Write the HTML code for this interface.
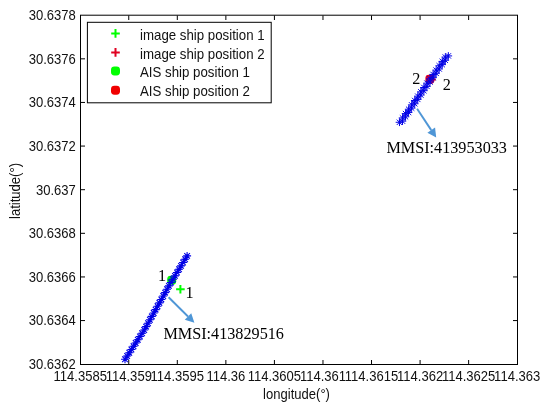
<!DOCTYPE html>
<html><head><meta charset="utf-8"><title>ship positions</title>
<style>
html,body{margin:0;padding:0;background:#fff;}
body{width:550px;height:412px;overflow:hidden;font-family:"Liberation Sans",sans-serif;}
svg{display:block;}
.t{font-family:"Liberation Sans",sans-serif;font-size:14.2px;fill:#111;}
.s{font-family:"Liberation Serif",serif;font-size:16.2px;fill:#000;}
</style></head><body>
<svg width="550" height="412" viewBox="0 0 550 412">
<rect width="550" height="412" fill="#fff"/>
<rect x="80.5" y="15.2" width="437.0" height="349.3" fill="none" stroke="#000" stroke-width="1"/>
<g stroke="#000" stroke-width="1">
<line x1="128.76" y1="364.5" x2="128.76" y2="360.0"/><line x1="128.76" y1="15.5" x2="128.76" y2="20.0"/>
<line x1="177.31" y1="364.5" x2="177.31" y2="360.0"/><line x1="177.31" y1="15.5" x2="177.31" y2="20.0"/>
<line x1="225.87" y1="364.5" x2="225.87" y2="360.0"/><line x1="225.87" y1="15.5" x2="225.87" y2="20.0"/>
<line x1="274.42" y1="364.5" x2="274.42" y2="360.0"/><line x1="274.42" y1="15.5" x2="274.42" y2="20.0"/>
<line x1="322.98" y1="364.5" x2="322.98" y2="360.0"/><line x1="322.98" y1="15.5" x2="322.98" y2="20.0"/>
<line x1="371.53" y1="364.5" x2="371.53" y2="360.0"/><line x1="371.53" y1="15.5" x2="371.53" y2="20.0"/>
<line x1="420.09" y1="364.5" x2="420.09" y2="360.0"/><line x1="420.09" y1="15.5" x2="420.09" y2="20.0"/>
<line x1="468.64" y1="364.5" x2="468.64" y2="360.0"/><line x1="468.64" y1="15.5" x2="468.64" y2="20.0"/>
<line x1="80.5" y1="58.83" x2="85.0" y2="58.83"/><line x1="517.5" y1="58.83" x2="513.0" y2="58.83"/>
<line x1="80.5" y1="102.45" x2="85.0" y2="102.45"/><line x1="517.5" y1="102.45" x2="513.0" y2="102.45"/>
<line x1="80.5" y1="146.07" x2="85.0" y2="146.07"/><line x1="517.5" y1="146.07" x2="513.0" y2="146.07"/>
<line x1="80.5" y1="189.7" x2="85.0" y2="189.7"/><line x1="517.5" y1="189.7" x2="513.0" y2="189.7"/>
<line x1="80.5" y1="233.32" x2="85.0" y2="233.32"/><line x1="517.5" y1="233.32" x2="513.0" y2="233.32"/>
<line x1="80.5" y1="276.95" x2="85.0" y2="276.95"/><line x1="517.5" y1="276.95" x2="513.0" y2="276.95"/>
<line x1="80.5" y1="320.57" x2="85.0" y2="320.57"/><line x1="517.5" y1="320.57" x2="513.0" y2="320.57"/>
</g>
<text class="t" transform="translate(80.2,381.2) scale(0.92,1)" text-anchor="middle">114.3585</text>
<text class="t" transform="translate(128.8,381.2) scale(0.92,1)" text-anchor="middle">114.359</text>
<text class="t" transform="translate(177.3,381.2) scale(0.92,1)" text-anchor="middle">114.3595</text>
<text class="t" transform="translate(225.9,381.2) scale(0.92,1)" text-anchor="middle">114.36</text>
<text class="t" transform="translate(274.4,381.2) scale(0.92,1)" text-anchor="middle">114.3605</text>
<text class="t" transform="translate(323.0,381.2) scale(0.92,1)" text-anchor="middle">114.361</text>
<text class="t" transform="translate(371.5,381.2) scale(0.92,1)" text-anchor="middle">114.3615</text>
<text class="t" transform="translate(420.1,381.2) scale(0.92,1)" text-anchor="middle">114.362</text>
<text class="t" transform="translate(468.6,381.2) scale(0.92,1)" text-anchor="middle">114.3625</text>
<text class="t" transform="translate(517.2,381.2) scale(0.92,1)" text-anchor="middle">114.363</text>
<text class="t" transform="translate(75.8,20.0) scale(0.92,1)" text-anchor="end">30.6378</text>
<text class="t" transform="translate(75.8,63.6) scale(0.92,1)" text-anchor="end">30.6376</text>
<text class="t" transform="translate(75.8,107.2) scale(0.92,1)" text-anchor="end">30.6374</text>
<text class="t" transform="translate(75.8,150.9) scale(0.92,1)" text-anchor="end">30.6372</text>
<text class="t" transform="translate(75.8,194.5) scale(0.92,1)" text-anchor="end">30.637</text>
<text class="t" transform="translate(75.8,238.1) scale(0.92,1)" text-anchor="end">30.6368</text>
<text class="t" transform="translate(75.8,281.8) scale(0.92,1)" text-anchor="end">30.6366</text>
<text class="t" transform="translate(75.8,325.4) scale(0.92,1)" text-anchor="end">30.6364</text>
<text class="t" transform="translate(75.8,369.0) scale(0.92,1)" text-anchor="end">30.6362</text>
<text class="t" transform="translate(296.5,398.9) scale(0.92,1)" text-anchor="middle">longitude(°)</text>
<text class="t" transform="translate(19.8,191.0) rotate(-90) scale(0.92,1)" text-anchor="middle">latitude(°)</text>
<defs><clipPath id="c"><rect x="80.5" y="15.5" width="437.0" height="349.0"/></clipPath></defs>
<g clip-path="url(#c)">
<rect x="167.20" y="275.70" width="9.0" height="9.0" rx="3.4" fill="#00ff00"/>
<rect x="425.40" y="74.70" width="9.0" height="9.0" rx="3.4" fill="#e00020"/>
<path d="M176.1 289.2H184.70000000000002M180.4 284.9V293.5" stroke="#00ff00" stroke-width="2.0" fill="none"/>
<path d="M427.2 79.5H435.8M431.5 75.2V83.8" stroke="#e00020" stroke-width="2.0" fill="none"/>
<path d="M121.00 359.30H129.00M125.00 355.30V363.30M122.17 356.47L127.83 362.13M122.17 362.13L127.83 356.47M123.13 356.04H131.13M127.13 352.04V360.04M124.31 353.22L129.96 358.87M124.31 358.87L129.96 353.22M125.27 352.79H133.27M129.27 348.79V356.79M126.44 349.96L132.10 355.62M126.44 355.62L132.10 349.96M127.40 349.53H135.40M131.40 345.53V353.53M128.57 346.70L134.23 352.36M128.57 352.36L134.23 346.70M129.53 346.28H137.53M133.53 342.28V350.28M130.71 343.45L136.36 349.11M130.71 349.11L136.36 343.45M131.67 343.02H139.67M135.67 339.02V347.02M132.84 340.19L138.50 345.85M132.84 345.85L138.50 340.19M133.80 339.77H141.80M137.80 335.77V343.77M134.97 336.94L140.63 342.59M134.97 342.59L140.63 336.94M135.93 336.51H143.93M139.93 332.51V340.51M137.11 333.68L142.76 339.34M137.11 339.34L142.76 333.68M138.07 333.25H146.07M142.07 329.25V337.25M139.24 330.43L144.90 336.08M139.24 336.08L144.90 330.43M140.20 330.00H148.20M144.20 326.00V334.00M141.37 327.17L147.03 332.83M141.37 332.83L147.03 327.17M142.10 326.60H150.10M146.10 322.60V330.60M143.27 323.77L148.93 329.43M143.27 329.43L148.93 323.77M144.00 323.21H152.00M148.00 319.21V327.21M145.18 320.38L150.83 326.03M145.18 326.03L150.83 320.38M145.91 319.81H153.91M149.91 315.81V323.81M147.08 316.98L152.73 322.64M147.08 322.64L152.73 316.98M147.81 316.41H155.81M151.81 312.41V320.41M148.98 313.59L154.64 319.24M148.98 319.24L154.64 313.59M149.71 313.02H157.71M153.71 309.02V317.02M150.88 310.19L156.54 315.85M150.88 315.85L156.54 310.19M151.61 309.62H159.61M155.61 305.62V313.62M152.78 306.79L158.44 312.45M152.78 312.45L158.44 306.79M153.51 306.23H161.51M157.51 302.23V310.23M154.69 303.40L160.34 309.05M154.69 309.05L160.34 303.40M155.42 302.83H163.42M159.42 298.83V306.83M156.59 300.00L162.24 305.66M156.59 305.66L162.24 300.00M157.32 299.43H165.32M161.32 295.43V303.43M158.49 296.60L164.15 302.26M158.49 302.26L164.15 296.60M159.22 296.04H167.22M163.22 292.04V300.04M160.39 293.21L166.05 298.86M160.39 298.86L166.05 293.21M161.12 292.64H169.12M165.12 288.64V296.64M162.29 289.81L167.95 295.47M162.29 295.47L167.95 289.81M163.02 289.24H171.02M167.02 285.24V293.24M164.19 286.42L169.85 292.07M164.19 292.07L169.85 286.42M164.93 285.85H172.93M168.93 281.85V289.85M166.10 283.02L171.75 288.68M166.10 288.68L171.75 283.02M166.92 282.50H174.92M170.92 278.50V286.50M168.09 279.68L173.75 285.33M168.09 285.33L173.75 279.68M168.94 279.18H176.94M172.94 275.18V283.18M170.11 276.35L175.77 282.01M170.11 282.01L175.77 276.35M170.96 275.85H178.96M174.96 271.85V279.85M172.13 273.03L177.79 278.68M172.13 278.68L177.79 273.03M172.99 272.53H180.99M176.99 268.53V276.53M174.16 269.70L179.81 275.36M174.16 275.36L179.81 269.70M175.01 269.20H183.01M179.01 265.20V273.20M176.18 266.37L181.84 272.03M176.18 272.03L181.84 266.37M177.03 265.88H185.03M181.03 261.88V269.88M178.20 263.05L183.86 268.71M178.20 268.71L183.86 263.05M179.05 262.55H187.05M183.05 258.55V266.55M180.23 259.72L185.88 265.38M180.23 265.38L185.88 259.72M181.08 259.23H189.08M185.08 255.23V263.23M182.25 256.40L187.91 262.05M182.25 262.05L187.91 256.40M183.10 255.90H191.10M187.10 251.90V259.90M184.27 253.07L189.93 258.73M184.27 258.73L189.93 253.07" stroke="#0000e6" stroke-width="1.1" fill="none"/>
<path d="M395.66 122.28H403.26M399.46 118.48V126.08M396.78 119.60L402.15 124.97M396.78 124.97L402.15 119.60M398.67 121.14H406.27M402.47 117.34V124.94M399.78 118.46L405.15 123.83M399.78 123.83L405.15 118.46M398.72 117.93H406.32M402.52 114.13V121.73M399.83 115.25L405.21 120.62M399.83 120.62L405.21 115.25M401.72 116.80H409.32M405.52 113.00V120.60M402.84 114.11L408.21 119.48M402.84 119.48L408.21 114.11M401.78 113.59H409.38M405.58 109.79V117.39M402.89 110.90L408.27 116.27M402.89 116.27L408.27 110.90M404.78 112.45H412.38M408.58 108.65V116.25M405.89 109.76L411.27 115.13M405.89 115.13L411.27 109.76M404.84 109.24H412.44M408.64 105.44V113.04M405.95 106.55L411.32 111.92M405.95 111.92L411.32 106.55M407.84 108.10H415.44M411.64 104.30V111.90M408.95 105.41L414.33 110.79M408.95 110.79L414.33 105.41M407.90 104.89H415.50M411.70 101.09V108.69M409.01 102.20L414.38 107.58M409.01 107.58L414.38 102.20M410.90 103.75H418.50M414.70 99.95V107.55M412.01 101.06L417.38 106.44M412.01 106.44L417.38 101.06M410.95 100.54H418.55M414.75 96.74V104.34M412.07 97.85L417.44 103.23M412.07 103.23L417.44 97.85M413.96 99.40H421.56M417.76 95.60V103.20M415.07 96.71L420.44 102.09M415.07 102.09L420.44 96.71M414.01 96.19H421.61M417.81 92.39V99.99M415.13 93.50L420.50 98.88M415.13 98.88L420.50 93.50M417.01 95.05H424.61M420.81 91.25V98.85M418.13 92.37L423.50 97.74M418.13 97.74L423.50 92.37M417.07 91.84H424.67M420.87 88.04V95.64M418.18 89.16L423.56 94.53M418.18 94.53L423.56 89.16M420.07 90.70H427.67M423.87 86.90V94.50M421.18 88.02L426.56 93.39M421.18 93.39L426.56 88.02M420.13 87.50H427.73M423.93 83.70V91.30M421.24 84.81L426.62 90.18M421.24 90.18L426.62 84.81M423.13 86.36H430.73M426.93 82.56V90.16M424.24 83.67L429.62 89.04M424.24 89.04L429.62 83.67M423.19 83.15H430.79M426.99 79.35V86.95M424.30 80.46L429.67 85.83M424.30 85.83L429.67 80.46M426.19 82.01H433.79M429.99 78.21V85.81M427.30 79.32L432.67 84.70M427.30 84.70L432.67 79.32M426.24 78.80H433.84M430.04 75.00V82.60M427.36 76.11L432.73 81.49M427.36 81.49L432.73 76.11M429.25 77.66H436.85M433.05 73.86V81.46M430.36 74.97L435.73 80.35M430.36 80.35L435.73 74.97M429.30 74.45H436.90M433.10 70.65V78.25M430.42 71.76L435.79 77.14M430.42 77.14L435.79 71.76M432.30 73.31H439.90M436.10 69.51V77.11M433.42 70.62L438.79 76.00M433.42 76.00L438.79 70.62M432.36 70.10H439.96M436.16 66.30V73.90M433.47 67.41L438.85 72.79M433.47 72.79L438.85 67.41M435.36 68.96H442.96M439.16 65.16V72.76M436.48 66.28L441.85 71.65M436.48 71.65L441.85 66.28M435.42 65.75H443.02M439.22 61.95V69.55M436.53 63.07L441.91 68.44M436.53 68.44L441.91 63.07M438.42 64.61H446.02M442.22 60.81V68.41M439.53 61.93L444.91 67.30M439.53 67.30L444.91 61.93M438.48 61.40H446.08M442.28 57.60V65.20M439.59 58.72L444.96 64.09M439.59 64.09L444.96 58.72M441.48 60.27H449.08M445.28 56.47V64.07M442.59 57.58L447.97 62.95M442.59 62.95L447.97 57.58M441.53 57.06H449.13M445.33 53.26V60.86M442.65 54.37L448.02 59.74M442.65 59.74L448.02 54.37M444.54 55.92H452.14M448.34 52.12V59.72M445.65 53.23L451.02 58.60M445.65 58.60L451.02 53.23" stroke="#0000e6" stroke-width="1.0" fill="none"/>
</g>
<line x1="168.6" y1="297.3" x2="188.00" y2="316.47" stroke="#4f96d6" stroke-width="1.9"/><polygon points="194.4,322.8 184.77,319.75 191.23,313.20" fill="#4f96d6"/>
<line x1="417.1" y1="108.8" x2="431.23" y2="130.10" stroke="#4f96d6" stroke-width="1.9"/><polygon points="436.2,137.6 427.39,132.64 435.06,127.56" fill="#4f96d6"/>
<text class="s" x="163.4" y="338.8">MMSI:413829516</text>
<text class="s" x="386.4" y="152.8">MMSI:413953033</text>
<text class="s" x="162" y="281" text-anchor="middle">1</text>
<text class="s" x="189.6" y="298.3" text-anchor="middle">1</text>
<text class="s" x="416.4" y="83.5" text-anchor="middle">2</text>
<text class="s" x="446.7" y="89.6" text-anchor="middle">2</text>
<rect x="87.4" y="22.3" width="183.8" height="80.5" fill="#fff" stroke="#000" stroke-width="1"/>
<path d="M111.2 33.4H119.8M115.5 29.099999999999998V37.699999999999996" stroke="#00ff00" stroke-width="2.0" fill="none"/>
<path d="M111.2 52.4H119.8M115.5 48.1V56.699999999999996" stroke="#e00020" stroke-width="2.0" fill="none"/>
<rect x="111.00" y="66.50" width="9.0" height="9.0" rx="3.4" fill="#00ff00"/>
<rect x="111.00" y="85.70" width="9.0" height="9.0" rx="3.4" fill="#f00000"/>
<text class="t" transform="translate(140.0,39.5) scale(0.935,1)" text-anchor="start">image ship position 1</text>
<text class="t" transform="translate(140.0,58.5) scale(0.935,1)" text-anchor="start">image ship position 2</text>
<text class="t" transform="translate(140.0,77.0) scale(0.935,1)" text-anchor="start">AIS ship position 1</text>
<text class="t" transform="translate(140.0,96.3) scale(0.935,1)" text-anchor="start">AIS ship position 2</text>
</svg></body></html>
